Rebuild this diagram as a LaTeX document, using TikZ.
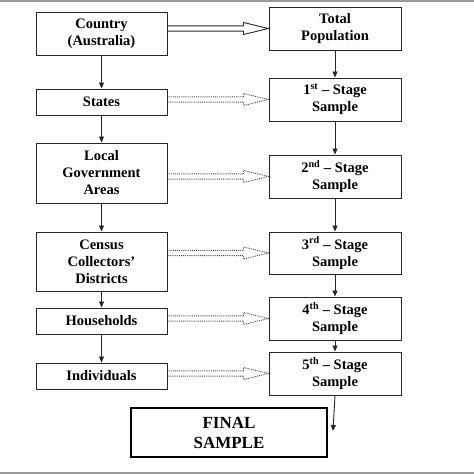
\documentclass[tikz,border=0pt]{standalone}
\usepackage{fontspec}
\setmainfont{Liberation Serif}
\usetikzlibrary{arrows.meta,calc}
\newcommand\harrow[3]{%
  \draw[#1] let \p1=(#2.east), \p2=(#3.west) in
    (\x1,\y2+2.6pt) -- (\x2-25pt,\y2+2.6pt) -- (\x2-25pt,\y2+6pt) -- (\x2,\y2)
    -- (\x2-25pt,\y2-6pt) -- (\x2-25pt,\y2-2.6pt) -- (\x1,\y2-2.6pt);}
\begin{document}
\begin{tikzpicture}[x=1pt,y=-1pt,
  box/.style={draw=black!85,line width=1pt,align=center,inner sep=1pt,
    font=\fontsize{14.5}{17}\selectfont\bfseries},
  lbox/.style={box,minimum width=131pt},
  rbox/.style={box,minimum width=132pt,minimum height=43pt},
  down/.style={draw=black!85,line width=0.9pt,-{Triangle[length=6pt,width=5pt]}},
  solidhollow/.style={draw=black!85,line width=0.9pt},
  dothollow/.style={draw=black!72,line width=0.9pt,densely dotted}]
\useasboundingbox[fill=white] (0,0) rectangle (474,474);
\fill[black!40] (0,0) rectangle (474,2.3);
\fill[black!40] (0,471.7) rectangle (474,474);
% left column
\node[lbox,minimum height=43pt] (country) at (101.5,33.5) {Country\\(Australia)};
\node[lbox,minimum height=26pt] (states) at (101.5,102) {States};
\node[lbox,minimum height=60pt] (lga) at (101.5,173) {Local\\Government\\Areas};
\node[lbox,minimum height=59pt] (census) at (101.5,261.5) {Census\\Collectors'\\Districts};
\node[lbox,minimum height=26pt] (house) at (101.5,321) {Households};
\node[lbox,minimum height=26pt] (indiv) at (101.5,376) {Individuals};
% right column
\node[rbox] (total) at (335,28.5) {Total\\Population};
\node[rbox] (s1) at (335,99.5) {1\textsuperscript{st} -- Stage\\Sample};
\node[rbox] (s2) at (335,176.5) {2\textsuperscript{nd} -- Stage\\Sample};
\node[rbox,minimum height=42pt] (s3) at (335,253) {3\textsuperscript{rd} -- Stage\\Sample};
\node[rbox] (s4) at (335,318.5) {4\textsuperscript{th} -- Stage\\Sample};
\node[rbox] (s5) at (335,373.5) {5\textsuperscript{th} -- Stage\\Sample};
% final
\node[draw=black,line width=2.4pt,minimum width=196pt,minimum height=49pt,align=center,
  font=\fontsize{17}{20}\selectfont\bfseries] (final) at (229,432.5) {FINAL\\SAMPLE};
\coordinate (fend) at (333,431);
% vertical arrows
\draw[down] (country) -- (states);
\draw[down] (states) -- (lga);
\draw[down] (lga) -- (census);
\draw[down] (census) -- (house);
\draw[down] (house) -- (indiv);
\draw[down] (total) -- (s1);
\draw[down] (s1) -- (s2);
\draw[down] (s2) -- (s3);
\draw[down] (s3) -- (s4);
\draw[down] (s4) -- (s5);
\draw[down] (s5.south) -- (fend);
% horizontal hollow arrows
\harrow{solidhollow}{country}{total}
\harrow{dothollow}{states}{s1}
\harrow{dothollow}{lga}{s2}
\harrow{dothollow}{census}{s3}
\harrow{dothollow}{house}{s4}
\harrow{dothollow}{indiv}{s5}
\end{tikzpicture}
\end{document}
